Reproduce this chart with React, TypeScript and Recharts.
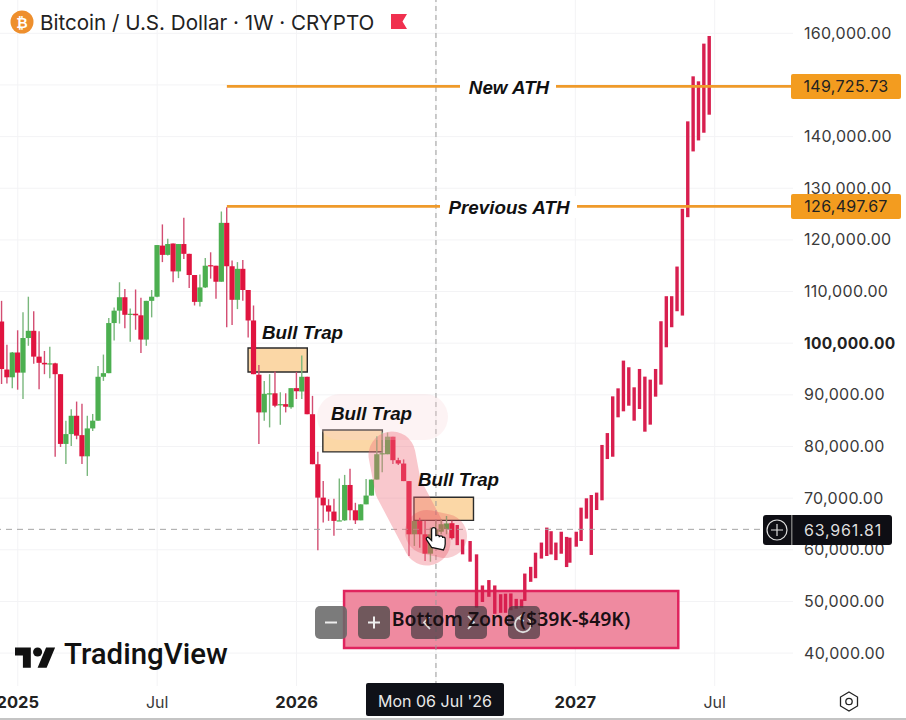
import React from 'react';
import { ComposedChart, Bar, XAxis, YAxis, CartesianGrid, ReferenceLine, ReferenceArea } from 'recharts';

// Weekly candles: [open, high, low, close]
const historyCandles: number[][] = [
  [104200,108200,92100,95000],[94900,99700,92200,93400],[93400,98300,91300,98200],[98200,102500,91000,94300],
  [94300,106000,89200,101000],[101000,109000,99500,102400],[102400,106200,96000,97400],[97400,102300,91100,96200],
  [96200,98500,94000,95900],[95900,99300,93200,96100],[96100,96200,78000,94000],[94000,94000,79900,80500],
  [80500,85000,76600,82400],[82400,87200,80100,85950],[85950,88700,81400,82100],[82200,88300,76600,78100],
  [78100,85950,74300,83500],[83500,86300,83000,85000],[85000,95600,85000,93500],[93500,97800,92700,94200],
  [94200,104900,94200,103900],[103900,106900,100500,106300],[106300,111800,103800,108900],[108900,110500,102900,105500],
  [105500,106700,100300,105700],[105700,110400,102600,105400],[105400,108800,98100,100700],[100700,108200,99500,108200],
  [108200,110300,105000,109000],[109000,119000,108900,119000],[118900,123000,115700,117100],[117100,120200,117000,119200],
  [119300,119300,111800,113900],[113900,119200,112600,119200],[119200,124300,116300,117300],[117300,117300,110700,113200],
  [113200,113200,107300,108000],[108000,113300,107100,110800],[110800,116500,110700,115000],[115100,117600,112500,115000],
  [115000,115000,108600,111900],[111900,125500,111900,123300],[123300,126300,103100,114900],[114900,116000,103500,108400],
  [108400,115700,106600,114400],[114400,116100,108200,110300],[110300,110300,101100,104400],[104400,107300,94000,94000],
  [93900,95800,80500,86600],[86600,92700,85000,90200],[90200,94000,83700,90300],[90300,94500,87600,87900],
  [88000,90500,84200,88200],[88200,90300,86600,87700],[87600,91300,87300,91300],[91300,94400,89200,90700],
  [90650,97600,89200,93500],[93500,93500,86250,86250],[86250,89800,76570,76570],[76570,79000,59900,70100],
  [70100,73300,65300,68600],[68600,69800,65600,67400],[67400,69900,62700,65600],[65600,73800,65600,65700],
  [65700,74500,65600,72550],[72550,75700,65700,67650],[67650,69100,65000,65700],[65700,68800,65700,68800],
  [68800,73700,68800,70500],[70500,73600,70500,73600],[73600,82000,73600,78500],[78500,82700,75000,78700],
  [78500,82700,78500,81900],[81900,81900,76600,77350],[77350,77800,76400,76700],[76700,77500,73300,73300],
  [73300,73300,58800,63000],[63000,65600,60750,65600],[65600,66200,60400,63000],[63000,65600,57850,59250],
  [59250,64300,57700,63000],[63000,65600,61700,64000],[63500,65900,63000,64950],[64000,66550,63000,65100],
  [65150,65600,62000,62250],
];

// Projected path: drawn as plain falling bars, top and bottom of each, at the week position
const projectionWeeks = [85,86,87.4,88.6,89.7,90.9,92,93.1,94,95,96,97,97.6,98.7,99.6,100.7,101.7,102.5,103.4,104.4,105.4,106,107.2,108.1,109.1,110,111,112,113,114,115,116,117,118,119,120,121,122,123,124,125,126,127,128,129,130,131,132];
const projectionTops = [64800,62000,61700,59120,53100,54140,53100,51400,51500,51550,50500,50400,55400,56700,59440,61400,64300,63600,61400,63500,62500,62350,63500,68160,69970,70610,71070,80300,82600,89710,91260,96630,95340,91460,95010,93530,92950,95010,104250,109100,109100,114840,126020,142950,151670,150700,158000,159480];
const projectionBottoms = [60900,59120,57700,48800,49900,50900,47600,47800,47800,48300,48600,48800,50100,53800,54500,58300,58800,59100,58000,59240,56660,57500,60600,61700,66030,59000,67700,69580,77570,78020,85650,86810,87900,85000,87260,82870,84230,89650,91980,99210,103090,106190,105350,124400,137130,139260,140750,144240];

const priceTicks = [40000,50000,60000,70000,80000,90000,100000,110000,120000,130000,140000,150000,160000];
const weekTicks = [3,29,55,81,107,133];
const weekLabels = ['2025','Jul','2026','Jul','2027','Jul'];

const newAth = 149725.73;
const previousAth = 126497.67;
const currentPrice = 63961.81;
const crosshairWeek = 81;
const athStartWeek = 42;
const lastWeek = 147.6;
const firstWeek = -0.32;

const bullTrapWeeks = [[45.95,57],[59.9,71],[76.9,88]];
const bullTrapPrices = [[94420,99070],[78950,83200],[65700,70160]];
const bottomZoneWeeks = [63.86,126.2];
const bottomZonePrices = [41000,52000];

const data = [
  ...historyCandles.map(([open, high, low, close], i) => ({ week: i, open, high, low, close, projected: false })),
  ...projectionTops.map((top, i) => ({ week: projectionWeeks[i], open: top, high: top, low: projectionBottoms[i], close: projectionBottoms[i], projected: true })),
];

const UP = '#4caf50';
const DOWN = '#e0143f';
const PROJ = '#d81f4f';
const UP_WICK = '#79b77c';
const DOWN_WICK = '#d34d72';
const ORANGE = '#ef9a2a';
const FONT = 'Inter, Roboto, sans-serif';

function Candle(props: any) {
  const { x, y, width, height, payload } = props;
  if (!payload || height == null) return null;
  const cx = x + width / 2;
  const range = payload.high - payload.low || 1;
  const toY = (v: number) => y + ((payload.high - v) / range) * height;
  const up = payload.close >= payload.open;
  if (payload.projected) {
    return <rect x={cx - 1.7} y={y} width={3.4} height={height} fill={PROJ} />;
  }
  const top = toY(Math.max(payload.open, payload.close));
  const bottom = toY(Math.min(payload.open, payload.close));
  return (
    <g>
      <line x1={cx} x2={cx} y1={y} y2={y + height} stroke={up ? UP_WICK : DOWN_WICK} strokeWidth={1.4} />
      <rect x={cx - 2.6} y={top} width={5.2} height={Math.max(bottom - top, 1.2)} fill={up ? UP : DOWN} />
    </g>
  );
}

function PriceTick(props: any) {
  const { x, y, payload } = props;
  const bold = payload.value === 100000;
  return (
    <text x={x + 3} y={y + 5.5} fontSize={bold ? 15.5 : 16} fontFamily={FONT} fontWeight={bold ? 700 : 400} fill={bold ? '#222' : '#3a3a3a'} letterSpacing={0.3}>
      {payload.value.toLocaleString('en-US', { minimumFractionDigits: 2 })}
    </text>
  );
}

function WeekTick(props: any) {
  const { x, payload } = props;
  const label = weekLabels[weekTicks.indexOf(payload.value)];
  const bold = label !== 'Jul';
  return (
    <text x={x} y={707.5} textAnchor="middle" fontSize={bold ? 16.5 : 16} fontFamily={FONT} fontWeight={bold ? 700 : 400} fill={bold ? '#222' : '#3a3a3a'}>
      {label}
    </text>
  );
}

const CalloutFont = { fontFamily: '"Liberation Sans", sans-serif', fontWeight: 700, fontStyle: 'italic' as const, fontSize: 18.8, fill: '#111' };

function Overlay() {
  const buttons = [
    { x: 315, w: 32, fill: 'rgba(105,105,105,0.88)' },
    { x: 358, w: 32, fill: 'rgba(80,75,75,0.8)' },
    { x: 411, w: 32, fill: 'rgba(70,60,65,0.72)' },
    { x: 455, w: 32, fill: 'rgba(70,60,65,0.72)' },
    { x: 508, w: 32, fill: 'rgba(70,60,65,0.72)' },
  ];
  return (
    <svg width={906} height={720} style={{ position: 'absolute', left: 0, top: 0, pointerEvents: 'none' }}>
      {/* highlighter strokes */}
      <path d="M340 417 H425" stroke="#f9d5d8" strokeOpacity={0.28} strokeWidth={46} strokeLinecap="round" fill="none" />
      <path d="M392 455 L398 487 L427 542" stroke="#ee6f7c" strokeOpacity={0.38} strokeWidth={47} strokeLinecap="round" strokeLinejoin="round" fill="none" />
      <path d="M427 532 L445 536" stroke="#e23a4c" strokeOpacity={0.25} strokeWidth={44} strokeLinecap="round" fill="none" />

      {/* labels */}
      <text x={262} y={339} {...CalloutFont}>Bull Trap</text>
      <text x={331} y={420} {...CalloutFont}>Bull Trap</text>
      <text x={418} y={486} {...CalloutFont}>Bull Trap</text>

      <rect x={460} y={76} width={96} height={22} fill="#fff" />
      <text x={509} y={93.5} textAnchor="middle" {...CalloutFont}>New ATH</text>
      <rect x={440} y={196} width={137} height={22} fill="#fff" />
      <text x={509} y={213.5} textAnchor="middle" {...CalloutFont}>Previous ATH</text>

      {/* zoom controls */}
      {buttons.map((b) => (
        <rect key={b.x} x={b.x} y={606} width={b.w} height={33} rx={5} fill={b.fill} />
      ))}
      <path d="M325 622.5 H337" stroke="#eee" strokeWidth={2} />
      <path d="M368 622.5 H380 M374 616.5 V628.5" stroke="#eee" strokeWidth={2} />
      <path d="M430 616 L424 622.5 L430 629" stroke="#ddd" strokeWidth={1.8} fill="none" />
      <path d="M468 616 L474 622.5 L468 629" stroke="#ddd" strokeWidth={1.8} fill="none" />
      <path d="M518 618 A8 8 0 1 0 528 618 M524 614 L518 618 L524 621" stroke="#ddd" strokeWidth={1.8} fill="none" />

      <text x={511} y={626} textAnchor="middle" fontFamily="'Noto Sans', sans-serif" fontWeight={600} fontSize={19.4} fill="#1a1014">Bottom Zone ($39K-$49K)</text>

      {/* hand cursor */}
      <g transform="translate(435,538) scale(0.85) translate(-436,-538)">
        <path d="M432 549 l-6 -9 c-1-2 1-4 3-2 l3 3 v-13 c0-3 5-3 5 0 v8 c0-2 4-2 4 0 v1 c0-2 4-2 4 0 v1 c0-2 3-1 3 1 v6 c0 3-1 5-2 7 z" fill="#fff" stroke="#111" strokeWidth={1.5} />
      </g>

      {/* header */}
      <circle cx={22} cy={22} r={11.5} fill="#ee8f2d" />
      <text x={22} y={27.5} textAnchor="middle" fontFamily="'DejaVu Sans', sans-serif" fontWeight={700} fontSize={14} fill="#fff">₿</text>
      <text x={40} y={30} fontFamily={FONT} fontSize={20.6} fill="#222">Bitcoin / U.S. Dollar · 1W · CRYPTO</text>
      <path d="M391 14 H407 L402.5 21.5 L407 29 H391 Z" fill="#f0304f" />

      {/* TradingView mark */}
      <g transform="translate(15,643) scale(1.13)" fill="#111">
        <path d="M14 22H7V11H0V4h14v18zM28 22h-8l7.5-18h8L28 22z" />
        <circle cx={20} cy={8} r={4} />
      </g>
      <text x={64} y={664} fontFamily="Roboto, sans-serif" fontWeight={500} fontSize={29.4} fill="#111">TradingView</text>

      {/* price tags */}
      <rect x={791} y={74} width={110} height={25} rx={2} fill="#f39c1f" />
      <text x={846} y={92} textAnchor="middle" fontFamily={FONT} fontSize={16} letterSpacing={0.3} fill="#222">{newAth.toLocaleString('en-US')}</text>
      <rect x={791} y={194} width={110} height={25} rx={2} fill="#f39c1f" />
      <text x={846} y={212} textAnchor="middle" fontFamily={FONT} fontSize={16} letterSpacing={0.3} fill="#222">{previousAth.toLocaleString('en-US')}</text>

      <rect x={763} y={515} width={129} height={30} rx={3} fill="#0e0e14" />
      <rect x={791} y={515} width={1.5} height={30} fill="#777" />
      <circle cx={777} cy={530} r={10} fill="none" stroke="#ddd" strokeWidth={1.2} />
      <path d="M771 530 H783 M777 524 V536" stroke="#ddd" strokeWidth={1.2} />
      <text x={843} y={535.5} textAnchor="middle" fontFamily={FONT} fontSize={16} letterSpacing={0.8} fill="#ddd">{currentPrice.toLocaleString('en-US')}</text>

      {/* date tag */}
      <rect x={366} y={683} width={138} height={33} rx={2} fill="#0f1118" />
      <text x={435} y={707} textAnchor="middle" fontFamily={FONT} fontSize={16} fill="#e8e8e8">Mon 06 Jul '26</text>

      {/* settings hexagon */}
      <path d="M849 692 L857.5 697 V706 L849 711 L840.5 706 V697 Z" fill="none" stroke="#222" strokeWidth={1.3} />
      <circle cx={849} cy={701.5} r={3.2} fill="none" stroke="#222" strokeWidth={1.3} />

      <rect x={0} y={718} width={906} height={2} fill="#c4c4c4" />
    </svg>
  );
}

export default function App() {
  return (
    <div style={{ position: 'absolute', left: 0, top: 0, width: 906, height: 720, background: '#fff', overflow: 'hidden' }}>
      <ComposedChart width={906} height={720} data={data} margin={{ top: 0, right: 0, bottom: 0, left: 0 }}>
        <CartesianGrid stroke="#f3f3f5" strokeWidth={1} syncWithTicks />
        <XAxis
          dataKey="week"
          type="number"
          domain={[firstWeek, lastWeek]}
          allowDataOverflow
          ticks={weekTicks}
          height={34}
          axisLine={false}
          tickLine={false}
          tick={<WeekTick />}
          interval={0}
        />
        <YAxis
          orientation="right"
          type="number"
          domain={[33630, 166447]}
          allowDataOverflow
          ticks={priceTicks}
          width={113}
          axisLine={false}
          tickLine={false}
          tick={<PriceTick />}
          interval={0}
        />
        {bullTrapWeeks.map((w, i) => (
          <ReferenceArea key={i} x1={w[0]} x2={w[1]} y1={bullTrapPrices[i][0]} y2={bullTrapPrices[i][1]} fill="#fbd7a6" fillOpacity={1} stroke="#2b2b2b" strokeWidth={1.4} />
        ))}
        <ReferenceArea x1={bottomZoneWeeks[0]} x2={bottomZoneWeeks[1]} y1={bottomZonePrices[0]} y2={bottomZonePrices[1]} fill="#ef8aa0" fillOpacity={1} stroke="#e0245e" strokeWidth={2.5} />
        <ReferenceLine x={crosshairWeek} stroke="#9a9a9a" strokeDasharray="5 4" />
        <ReferenceLine y={currentPrice} stroke="#a4a4a4" strokeDasharray="6 5" />
        <Bar dataKey={(d: any) => [d.low, d.high]} shape={<Candle />} barSize={5} isAnimationActive={false} />
        <ReferenceLine segment={[{ x: athStartWeek, y: newAth }, { x: lastWeek, y: newAth }]} stroke={ORANGE} strokeWidth={2.8} />
        <ReferenceLine segment={[{ x: athStartWeek, y: previousAth }, { x: lastWeek, y: previousAth }]} stroke={ORANGE} strokeWidth={2.8} />
      </ComposedChart>
      <Overlay />
    </div>
  );
}
